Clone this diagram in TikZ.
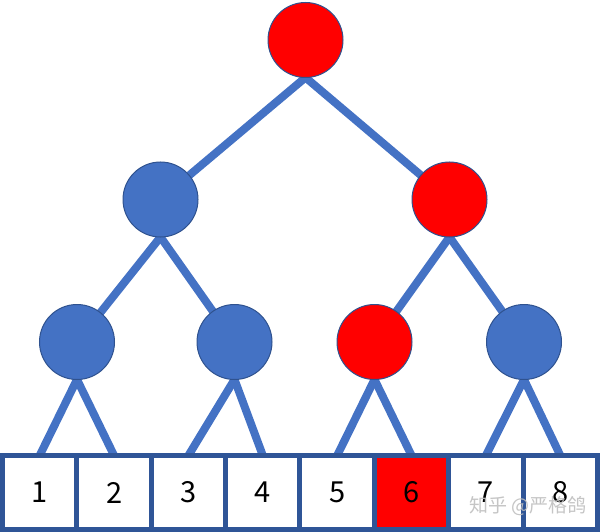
\documentclass[tikz,border=0pt]{standalone}
\usepackage{fontspec}
\setmainfont{Noto Sans CJK SC}
\newfontfamily\cjk{Noto Sans CJK SC}
\definecolor{edgeblue}{HTML}{4472C4}
\definecolor{nodeblue}{HTML}{4472C4}
\definecolor{rimblue}{HTML}{2F528F}
\definecolor{boxblue}{HTML}{2F5597}
\definecolor{hotred}{HTML}{FF0000}
\begin{document}
\begin{tikzpicture}[x=1pt,y=-1pt,
  treenode/.style={circle,draw=rimblue,line width=1pt,minimum size=75pt,inner sep=0pt},
  bluenode/.style={treenode,fill=nodeblue},
  rednode/.style={treenode,fill=hotred},
  edge/.style={draw=edgeblue,line width=8pt},
  cell/.style={draw=boxblue,line width=5pt,minimum width=74.4pt,minimum height=74pt,inner sep=0pt,fill=white,font=\fontsize{29}{29}\selectfont},
  wmark/.style={font=\cjk\fontsize{19}{19}\selectfont,text=white!75!black,opacity=0.9}]
\useasboundingbox (0,0) rectangle (600,532);
% coordinates of nodes
\coordinate (pr) at (305.5,40);
\coordinate (pa) at (160.5,199.5);
\coordinate (pb) at (449.5,199.5);
\coordinate (pa1) at (77,342);
\coordinate (pa2) at (234.5,342);
\coordinate (pb1) at (374.5,342);
\coordinate (pb2) at (524,342);
\coordinate (rs) at (305.5,77.5);
\coordinate (as) at (160.5,237);
\coordinate (bs) at (449.5,237);
\coordinate (a1s) at (77,379.5);
\coordinate (a2s) at (234.5,379.5);
\coordinate (b1s) at (374.5,379.5);
\coordinate (b2s) at (524,379.5);
\foreach \i in {1,...,8}{
  \pgfmathsetmacro{\cx}{2.5+74.375*(\i-0.5)}
  \coordinate (t\i) at (\cx,455.5);
}
% edges
\draw[edge] (rs) -- (pa);
\draw[edge] (rs) -- (pb);
\draw[edge] (as) -- (pa1);
\draw[edge] (as) -- (pa2);
\draw[edge] (bs) -- (pb1);
\draw[edge] (bs) -- (pb2);
\draw[edge] (a1s) -- (t1);
\draw[edge] (a1s) -- (t2);
\draw[edge] (a2s) -- (t3);
\draw[edge] (a2s) -- (t4);
\draw[edge] (b1s) -- (t5);
\draw[edge] (b1s) -- (t6);
\draw[edge] (b2s) -- (t7);
\draw[edge] (b2s) -- (t8);
% nodes
\node[rednode] (r) at (pr) {};
\node[bluenode] (a) at (pa) {};
\node[rednode] (b) at (pb) {};
\node[bluenode] (a1) at (pa1) {};
\node[bluenode] (a2) at (pa2) {};
\node[rednode] (b1) at (pb1) {};
\node[bluenode] (b2) at (pb2) {};
% cells
\foreach \i in {1,...,8}{
  \pgfmathsetmacro{\cx}{2.5+74.375*(\i-0.5)}
  \ifnum\i=6
    \node[cell,fill=hotred] (c\i) at (\cx,492.5) {\i};
  \else
    \node[cell] (c\i) at (\cx,492.5) {\i};
  \fi
}
\node[wmark] (wm) at (528,506) {知乎 @严格鸽};
\end{tikzpicture}
\end{document}
